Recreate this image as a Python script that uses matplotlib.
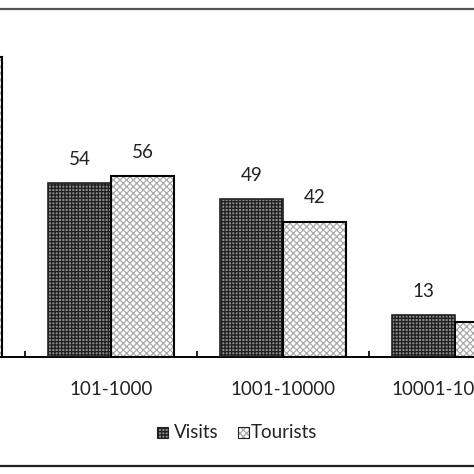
import matplotlib
matplotlib.use("Agg")
import matplotlib.pyplot as plt
from matplotlib.patches import Rectangle
from matplotlib.lines import Line2D
import numpy as np

categories = ["1-100", "101-1000", "1001-10000", "10001-100000"]
visits = [80, 54, 49, 13]
tourists = [93, 56, 42, 11]
legend_labels = ["Visits", "Tourists"]

plt.rcParams['font.family'] = ['Lato', 'DejaVu Sans']
plt.rcParams['hatch.linewidth'] = 0.9

W = H = 474
FS = 13.5
fig = plt.figure(figsize=(4.74, 4.74), dpi=100)

base_px = 357  # baseline from top
ax = fig.add_axes([0, (H - base_px) / H, 1, base_px / H])
px_per_cat = 172.0
center1_px = 111.0
x0 = 1 - center1_px / px_per_cat
x1 = x0 + W / px_per_cat

bw = 63 / px_per_cat
x = np.arange(len(categories))

vis_style = dict(facecolor='#8a8a8a', edgecolor='#1e1e1e', hatch='+++++', linewidth=0)
tou_style = dict(facecolor='white', edgecolor='#aaaaaa', hatch='xxxxx', linewidth=0)

ax.bar(x - bw / 2, visits, bw, **vis_style, zorder=2)
ax.bar(x + bw / 2, tourists, bw, **tou_style, zorder=2)
ax.bar(x - bw / 2, visits, bw, facecolor='none', edgecolor='#222222', linewidth=1.2, zorder=3)
ax.bar(x + bw / 2, tourists, bw, facecolor='none', edgecolor='black', linewidth=1.5, zorder=3)

for xi, v in zip(x - bw / 2, visits):
    ax.annotate(str(v), (xi, v), xytext=(0, 17), textcoords='offset points',
                ha='center', va='center', fontsize=FS, color='#222222')
for xi, v in zip(x + bw / 2, tourists):
    ax.annotate(str(v), (xi, v), xytext=(0, 17), textcoords='offset points',
                ha='center', va='center', fontsize=FS, color='#222222')

for s in ['left', 'top', 'right']:
    ax.spines[s].set_visible(False)
ax.spines['bottom'].set_linewidth(1.4)
ax.spines['bottom'].set_color('black')
ax.set_yticks([])
ax.set_xticks(x)
ax.set_xticklabels(categories, fontsize=FS, color='#222222')
ax.tick_params(axis='x', length=0, pad=17)
ax.set_xticks(np.arange(len(categories) + 1) - 0.5, minor=True)
ax.tick_params(axis='x', which='minor', direction='in', length=4, width=1.2, color='black')
ax.set_xlim(x0, x1)
ax.set_ylim(0, base_px / 3.225)
ax.patch.set_alpha(0)

# chart border lines
fig.add_artist(Line2D([0, 1], [1 - 9 / H, 1 - 9 / H], transform=fig.transFigure,
                      color='#555555', linewidth=1.6))
fig.add_artist(Line2D([0, 1], [1 - 466 / H, 1 - 466 / H], transform=fig.transFigure,
                      color='#222222', linewidth=1.6))

# legend (manual)
ly = 432
sq = 11
items = [(157, 174, vis_style, legend_labels[0]), (238, 251, tou_style, legend_labels[1])]
for sx, tx, st, lab in items:
    r = Rectangle((sx / W, 1 - (ly + sq / 2) / H), sq / W, sq / H, transform=fig.transFigure,
                  **st)
    fig.add_artist(r)
    r2 = Rectangle((sx / W, 1 - (ly + sq / 2) / H), sq / W, sq / H, transform=fig.transFigure,
                   facecolor='none', edgecolor='#222222', linewidth=0.8)
    fig.add_artist(r2)
    fig.text(tx / W, 1 - ly / H, lab, ha='left', va='center', fontsize=FS, color='#222222')

fig.savefig("out.png", dpi=100)
